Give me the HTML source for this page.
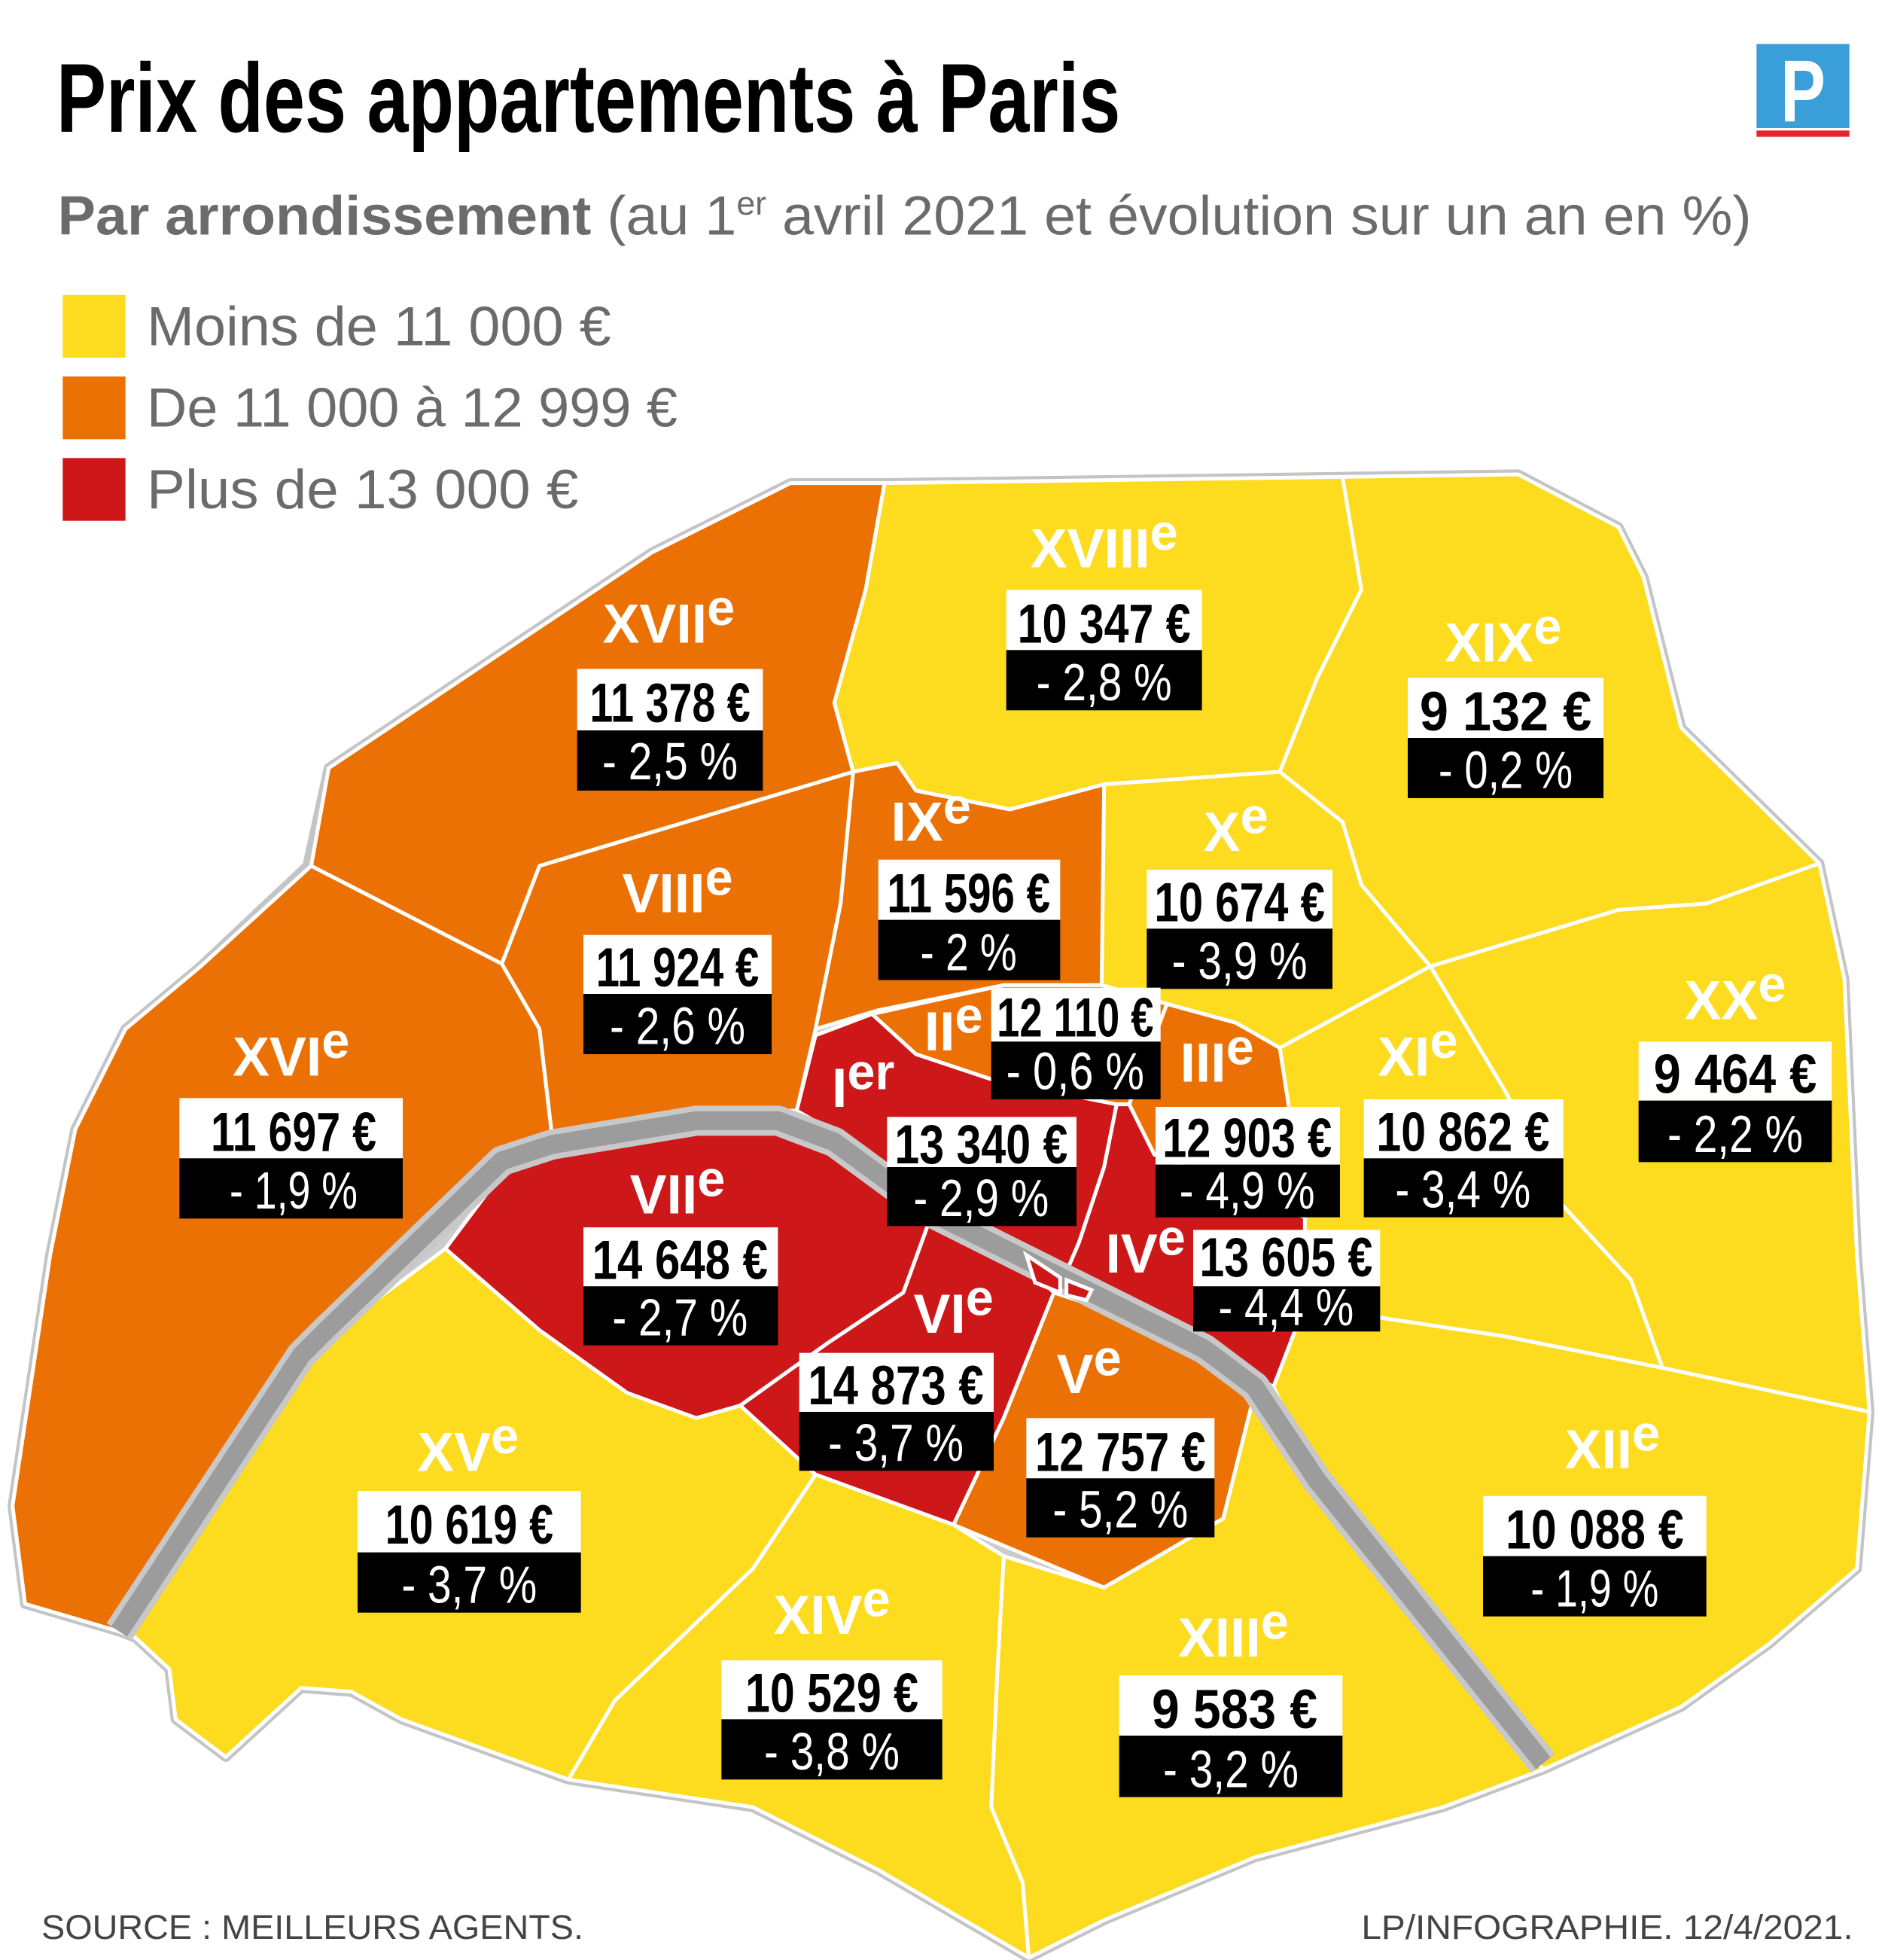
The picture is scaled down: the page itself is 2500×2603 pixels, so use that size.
<!DOCTYPE html>
<html><head><meta charset="utf-8"><style>
html,body{margin:0;padding:0;background:#fff;}
svg{display:block;}
.n{font-family:"Liberation Sans Narrow","Liberation Sans",sans-serif;font-weight:bold;font-size:44px;fill:#000;}
.p{font-family:"Liberation Sans Narrow","Liberation Sans",sans-serif;font-size:42px;fill:#fff;}
.r{font-family:"Liberation Sans Narrow","Liberation Sans",sans-serif;font-weight:bold;font-size:44px;fill:#fff;}
.r tspan{font-size:40px;}
</style></head><body>
<svg width="2500" height="2603" viewBox="0 0 1500 1561.8" xmlns="http://www.w3.org/2000/svg">
<rect width="1500" height="1562" fill="#fff"/>
<text x="45" y="105" font-family="Liberation Sans Narrow, Liberation Sans, sans-serif" font-weight="bold" font-size="78" textLength="848" lengthAdjust="spacingAndGlyphs">Prix des appartements à Paris</text>
<text x="46" y="187" font-family="Liberation Sans Narrow, Liberation Sans, sans-serif" font-size="44" fill="#6b6b6b" textLength="1350" lengthAdjust="spacingAndGlyphs"><tspan font-weight="bold">Par arrondissement</tspan> (au 1<tspan font-size="26" dy="-16">er</tspan><tspan dy="16"> avril 2021 et évolution sur un an en %)</tspan></text>
<rect x="1400" y="35" width="74" height="67" fill="#3a9ed9"/>
<rect x="1400" y="104" width="74" height="5" fill="#e3262b"/>
<text x="1437" y="97" text-anchor="middle" font-family="Liberation Sans Narrow, Liberation Sans, sans-serif" font-weight="bold" font-size="70" fill="#fff" textLength="36" lengthAdjust="spacingAndGlyphs">P</text>
<rect x="50" y="235" width="50" height="50" fill="#fddb1e"/>
<rect x="50" y="300" width="50" height="50" fill="#ec7105"/>
<rect x="50" y="365" width="50" height="50" fill="#cd1719"/>
<g font-family="Liberation Sans, sans-serif" font-size="44" fill="#6b6b6b">
<text x="117" y="275" textLength="370" lengthAdjust="spacingAndGlyphs">Moins de 11 000 €</text>
<text x="117" y="340" textLength="423" lengthAdjust="spacingAndGlyphs">De 11 000 à 12 999 €</text>
<text x="117" y="405" textLength="344" lengthAdjust="spacingAndGlyphs">Plus de 13 000 €</text>
</g>
<path d="M262,612 430,500 520,440 630,385 705,385 1070,380 1210,378 1290,420 1310,460 1340,580 1450,688 1470,780 1480,1000 1490,1125 1480,1250 1410,1310 1340,1360 1230,1410 1150,1440 1000,1480 880,1530 820,1560 700,1490 600,1440 453,1418 320,1370 280,1348 240,1345 180,1400 140,1370 135,1330 108,1305 95,1300 20,1278 10,1200 40,1000 60,900 100,820 160,770 245,690Z" fill="#ccc" stroke="#c4c4c4" stroke-width="8" stroke-linejoin="round"/>
<g stroke="#fff" stroke-width="3" stroke-linejoin="round">
<polygon fill="#ec7105" points="262,612 430,500 520,440 630,385 705,385 690,470 665,560 680,615 430,690 400,768 248,690"/>
<polygon fill="#fddb1e" points="705,385 1070,380 1085,470 1050,540 1020,615 880,625 805,645 730,630 715,608 680,615 665,560 690,470"/>
<polygon fill="#fddb1e" points="1070,380 1210,378 1290,420 1310,460 1340,580 1450,688 1360,720 1290,725 1140,770 1085,705 1070,655 1020,615 1050,540 1085,470"/>
<polygon fill="#fddb1e" points="880,625 1020,615 1070,655 1085,705 1140,770 1020,835 985,815 930,800 878,785"/>
<polygon fill="#fddb1e" points="1140,770 1290,725 1360,720 1450,688 1470,780 1480,1000 1490,1125 1325,1090 1300,1020 1245,960 1200,870"/>
<polygon fill="#fddb1e" points="1020,835 1140,770 1200,870 1245,960 1300,1020 1325,1090 1200,1065 1100,1050 1040,1040 1040,980 1030,900"/>
<polygon fill="#fddb1e" points="1040,1040 1100,1050 1200,1065 1325,1090 1490,1125 1480,1250 1410,1310 1340,1360 1230,1410 1050,1180 1015,1105"/>
<polygon fill="#ec7105" points="248,690 400,768 430,820 440,905 400,920 240,1080 95,1300 20,1278 10,1200 40,1000 60,900 100,820 160,770"/>
<polygon fill="#ec7105" points="430,690 680,615 670,720 650,820 635,885 560,885 440,905 430,820 400,768"/>
<polygon fill="#ec7105" points="680,615 715,608 730,630 805,645 880,625 878,785 800,785 700,805 650,820 670,720"/>
<polygon fill="#ec7105" points="695,808 800,785 878,785 930,800 900,880 890,880 790,860 730,840"/>
<polygon fill="#ec7105" points="930,800 985,815 1020,835 1030,900 1040,970 920,920 900,880"/>
<polygon fill="#cd1719" points="635,885 650,825 695,808 730,840 790,860 890,880 880,930 860,990 845,1025 800,990 740,960 670,905"/>
<polygon fill="#cd1719" points="890,880 900,880 920,920 1040,970 1040,1040 1015,1105 960,1075 900,1050 845,1025 860,990 880,930"/>
<polygon fill="#cd1719" points="400,935 440,905 560,885 620,885 670,905 740,960 740,975 720,1030 660,1070 590,1120 555,1130 500,1110 430,1060 355,995"/>
<polygon fill="#cd1719" points="740,975 800,990 840,1030 800,1130 760,1215 650,1175 590,1120 660,1070 720,1030"/>
<polygon fill="#ec7105" points="840,1030 900,1050 960,1075 1000,1110 975,1210 880,1265 760,1215 800,1130"/>
<polygon fill="#fddb1e" points="1000,1110 1050,1180 1230,1410 1150,1440 1000,1480 880,1530 820,1560 815,1500 790,1440 795,1330 800,1240 880,1265 975,1210"/>
<polygon fill="#fddb1e" points="650,1175 760,1215 800,1240 795,1330 790,1440 815,1500 820,1560 700,1490 600,1440 453,1418 490,1355 600,1250"/>
<polygon fill="#fddb1e" points="355,995 430,1060 500,1110 555,1130 590,1120 650,1175 600,1250 490,1355 453,1418 320,1370 280,1348 240,1345 180,1400 140,1370 135,1330 108,1305 95,1300 240,1080"/>
</g>
<path d="M95,1300 L240,1080 L260,1060 L400,925 L440,912 L555,893 L620,893 L665,910 L740,965 L800,995 L900,1045 L960,1075 L1000,1105 L1050,1180 L1230,1405" fill="none" stroke="#c8c8c8" stroke-width="24" stroke-linejoin="round"/>
<path d="M95,1300 L240,1080 L260,1060 L400,925 L440,912 L555,893 L620,893 L665,910 L740,965 L800,995 L900,1045 L960,1075 L1000,1105 L1050,1180 L1230,1405" fill="none" stroke="#9c9c9c" stroke-width="15" stroke-linejoin="round"/>
<g stroke="#fff" stroke-width="3" fill="#cd1719">
<polygon points="818,1000 845,1018 845,1030 825,1022"/>
<polygon points="850,1020 870,1028 866,1036 850,1032"/>
</g>
<g class="r" text-anchor="middle">
<text x="533" y="512">XVII<tspan dy="-14">e</tspan></text>
<text x="880" y="452">XVIII<tspan dy="-14">e</tspan></text>
<text x="1198" y="527">XIX<tspan dy="-14">e</tspan></text>
<text x="742" y="670">IX<tspan dy="-14">e</tspan></text>
<text x="985" y="678">X<tspan dy="-14">e</tspan></text>
<text x="540" y="727">VIII<tspan dy="-14">e</tspan></text>
<text x="1383" y="812">XX<tspan dy="-14">e</tspan></text>
<text x="232" y="857">XVI<tspan dy="-14">e</tspan></text>
<text x="760" y="837">II<tspan dy="-14">e</tspan></text>
<text x="688" y="882">I<tspan dy="-14">er</tspan></text>
<text x="970" y="862">III<tspan dy="-14">e</tspan></text>
<text x="1130" y="857">XI<tspan dy="-14">e</tspan></text>
<text x="540" y="967">VII<tspan dy="-14">e</tspan></text>
<text x="913" y="1014">IV<tspan dy="-14">e</tspan></text>
<text x="760" y="1062">VI<tspan dy="-14">e</tspan></text>
<text x="868" y="1110">V<tspan dy="-14">e</tspan></text>
<text x="1285" y="1170">XII<tspan dy="-14">e</tspan></text>
<text x="373" y="1172">XV<tspan dy="-14">e</tspan></text>
<text x="663" y="1302">XIV<tspan dy="-14">e</tspan></text>
<text x="983" y="1320">XIII<tspan dy="-14">e</tspan></text>
</g>
<g id="boxes">
<rect x="460" y="533" width="148" height="49" fill="#fff"/><rect x="460" y="582" width="148" height="48" fill="#000"/>
<text class="n" x="534" y="575" text-anchor="middle" textLength="128" lengthAdjust="spacingAndGlyphs">11 378 €</text><text class="p" x="534" y="621" text-anchor="middle" textLength="108" lengthAdjust="spacingAndGlyphs">- 2,5 %</text>
<rect x="802" y="470" width="156" height="48" fill="#fff"/><rect x="802" y="518" width="156" height="48" fill="#000"/>
<text class="n" x="880" y="512" text-anchor="middle" textLength="138" lengthAdjust="spacingAndGlyphs">10 347 €</text><text class="p" x="880" y="558" text-anchor="middle" textLength="108" lengthAdjust="spacingAndGlyphs">- 2,8 %</text>
<rect x="1122" y="540" width="156" height="48" fill="#fff"/><rect x="1122" y="588" width="156" height="48" fill="#000"/>
<text class="n" x="1200" y="582" text-anchor="middle" textLength="137" lengthAdjust="spacingAndGlyphs">9 132 €</text><text class="p" x="1200" y="628" text-anchor="middle" textLength="107" lengthAdjust="spacingAndGlyphs">- 0,2 %</text>
<rect x="700" y="685" width="145" height="48" fill="#fff"/><rect x="700" y="733" width="145" height="48" fill="#000"/>
<text class="n" x="772" y="727" text-anchor="middle" textLength="130" lengthAdjust="spacingAndGlyphs">11 596 €</text><text class="p" x="772" y="773" text-anchor="middle" textLength="77" lengthAdjust="spacingAndGlyphs">- 2 %</text>
<rect x="914" y="693" width="148" height="47" fill="#fff"/><rect x="914" y="740" width="148" height="48" fill="#000"/>
<text class="n" x="988" y="734" text-anchor="middle" textLength="136" lengthAdjust="spacingAndGlyphs">10 674 €</text><text class="p" x="988" y="780" text-anchor="middle" textLength="108" lengthAdjust="spacingAndGlyphs">- 3,9 %</text>
<rect x="465" y="745" width="150" height="47" fill="#fff"/><rect x="465" y="792" width="150" height="48" fill="#000"/>
<text class="n" x="540" y="786" text-anchor="middle" textLength="130" lengthAdjust="spacingAndGlyphs">11 924 €</text><text class="p" x="540" y="832" text-anchor="middle" textLength="108" lengthAdjust="spacingAndGlyphs">- 2,6 %</text>
<rect x="1306" y="830" width="154" height="47" fill="#fff"/><rect x="1306" y="877" width="154" height="49" fill="#000"/>
<text class="n" x="1383" y="871" text-anchor="middle" textLength="130" lengthAdjust="spacingAndGlyphs">9 464 €</text><text class="p" x="1383" y="918" text-anchor="middle" textLength="108" lengthAdjust="spacingAndGlyphs">- 2,2 %</text>
<rect x="143" y="875" width="178" height="48" fill="#fff"/><rect x="143" y="923" width="178" height="48" fill="#000"/>
<text class="n" x="234" y="917" text-anchor="middle" textLength="132" lengthAdjust="spacingAndGlyphs">11 697 €</text><text class="p" x="234" y="963" text-anchor="middle" textLength="102" lengthAdjust="spacingAndGlyphs">- 1,9 %</text>
<rect x="790" y="787" width="135" height="43" fill="#fff"/><rect x="790" y="830" width="135" height="46" fill="#000"/>
<text class="n" x="857" y="826" text-anchor="middle" textLength="125" lengthAdjust="spacingAndGlyphs">12 110 €</text><text class="p" x="857" y="868" text-anchor="middle" textLength="110" lengthAdjust="spacingAndGlyphs">- 0,6 %</text>
<rect x="921" y="882" width="147" height="46" fill="#fff"/><rect x="921" y="928" width="147" height="42" fill="#000"/>
<text class="n" x="994" y="922" text-anchor="middle" textLength="135" lengthAdjust="spacingAndGlyphs">12 903 €</text><text class="p" x="994" y="963" text-anchor="middle" textLength="108" lengthAdjust="spacingAndGlyphs">- 4,9 %</text>
<rect x="1087" y="876" width="159" height="47" fill="#fff"/><rect x="1087" y="923" width="159" height="47" fill="#000"/>
<text class="n" x="1166" y="917" text-anchor="middle" textLength="138" lengthAdjust="spacingAndGlyphs">10 862 €</text><text class="p" x="1166" y="962" text-anchor="middle" textLength="108" lengthAdjust="spacingAndGlyphs">- 3,4 %</text>
<rect x="707" y="890" width="151" height="40" fill="#fff"/><rect x="707" y="930" width="151" height="47" fill="#000"/>
<text class="n" x="782" y="927" text-anchor="middle" textLength="138" lengthAdjust="spacingAndGlyphs">13 340 €</text><text class="p" x="782" y="969" text-anchor="middle" textLength="108" lengthAdjust="spacingAndGlyphs">- 2,9 %</text>
<rect x="465" y="978" width="155" height="47" fill="#fff"/><rect x="465" y="1025" width="155" height="47" fill="#000"/>
<text class="n" x="542" y="1019" text-anchor="middle" textLength="140" lengthAdjust="spacingAndGlyphs">14 648 €</text><text class="p" x="542" y="1064" text-anchor="middle" textLength="108" lengthAdjust="spacingAndGlyphs">- 2,7 %</text>
<rect x="951" y="980" width="149" height="45" fill="#fff"/><rect x="951" y="1025" width="149" height="36" fill="#000"/>
<text class="n" x="1025" y="1017" text-anchor="middle" textLength="138" lengthAdjust="spacingAndGlyphs">13 605 €</text><text class="p" x="1025" y="1056" text-anchor="middle" textLength="108" lengthAdjust="spacingAndGlyphs">- 4,4 %</text>
<rect x="637" y="1078" width="155" height="47" fill="#fff"/><rect x="637" y="1125" width="155" height="47" fill="#000"/>
<text class="n" x="714" y="1119" text-anchor="middle" textLength="140" lengthAdjust="spacingAndGlyphs">14 873 €</text><text class="p" x="714" y="1164" text-anchor="middle" textLength="108" lengthAdjust="spacingAndGlyphs">- 3,7 %</text>
<rect x="818" y="1130" width="150" height="48" fill="#fff"/><rect x="818" y="1178" width="150" height="47" fill="#000"/>
<text class="n" x="893" y="1172" text-anchor="middle" textLength="136" lengthAdjust="spacingAndGlyphs">12 757 €</text><text class="p" x="893" y="1217" text-anchor="middle" textLength="108" lengthAdjust="spacingAndGlyphs">- 5,2 %</text>
<rect x="1182" y="1192" width="178" height="48" fill="#fff"/><rect x="1182" y="1240" width="178" height="48" fill="#000"/>
<text class="n" x="1271" y="1234" text-anchor="middle" textLength="142" lengthAdjust="spacingAndGlyphs">10 088 €</text><text class="p" x="1271" y="1280" text-anchor="middle" textLength="102" lengthAdjust="spacingAndGlyphs">- 1,9 %</text>
<rect x="285" y="1188" width="178" height="49" fill="#fff"/><rect x="285" y="1237" width="178" height="48" fill="#000"/>
<text class="n" x="374" y="1230" text-anchor="middle" textLength="134" lengthAdjust="spacingAndGlyphs">10 619 €</text><text class="p" x="374" y="1277" text-anchor="middle" textLength="108" lengthAdjust="spacingAndGlyphs">- 3,7 %</text>
<rect x="575" y="1323" width="176" height="47" fill="#fff"/><rect x="575" y="1370" width="176" height="48" fill="#000"/>
<text class="n" x="663" y="1364" text-anchor="middle" textLength="138" lengthAdjust="spacingAndGlyphs">10 529 €</text><text class="p" x="663" y="1410" text-anchor="middle" textLength="108" lengthAdjust="spacingAndGlyphs">- 3,8 %</text>
<rect x="892" y="1335" width="178" height="48" fill="#fff"/><rect x="892" y="1383" width="178" height="49" fill="#000"/>
<text class="n" x="984" y="1377" text-anchor="middle" textLength="132" lengthAdjust="spacingAndGlyphs">9 583  €</text><text class="p" x="981" y="1424" text-anchor="middle" textLength="108" lengthAdjust="spacingAndGlyphs">- 3,2 %</text>
</g>
<g font-family="Liberation Sans, sans-serif" font-size="27" fill="#444">
<text x="33" y="1545" textLength="432" lengthAdjust="spacingAndGlyphs">SOURCE : MEILLEURS AGENTS.</text>
<text x="1085" y="1545" textLength="392" lengthAdjust="spacingAndGlyphs">LP/INFOGRAPHIE.  12/4/2021.</text>
</g>
</svg>
</body></html>
